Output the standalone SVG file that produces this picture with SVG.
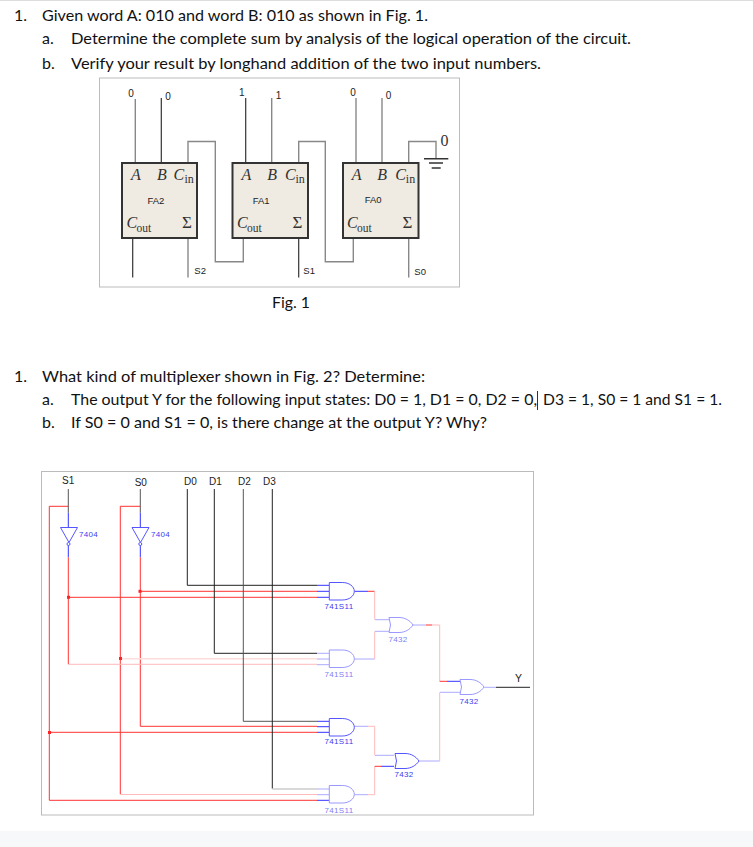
<svg xmlns="http://www.w3.org/2000/svg" width="753" height="847" viewBox="0 0 753 847">
<style>
.t{font-family:Lato,"Liberation Sans",sans-serif;font-size:16px;fill:#111}
.s{font-family:"Liberation Sans",Arial,sans-serif;fill:#222}
.m{font-family:"Liberation Serif","Times New Roman",serif;fill:#333}
.i{font-style:italic;font-size:16px}
.in{font-size:12px}
.out{font-size:11.500px}
.sg{font-size:17px}
.lb{font-size:9.500px}
.dg{font-size:10px}
.g{font-family:"Liberation Sans",Arial,sans-serif;font-size:8px;fill:#3b3bf0;letter-spacing:.3px;text-anchor:middle}
.gp{fill:#8080f5}
.k{fill:none;stroke:#888;stroke-width:1.4}
.kd{fill:none;stroke:#333;stroke-width:1.2}
.r{fill:none;stroke:#f33;stroke-width:1}
.p{fill:none;stroke:#fbb;stroke-width:1}
.pp{fill:none;stroke:#fdd;stroke-width:1.4}
.b{fill:none;stroke:#33f;stroke-width:1}
.bp{fill:none;stroke:#aaf;stroke-width:1}
.d{fill:none;stroke:#222;stroke-width:1}
.dd{fill:none;stroke:#555;stroke-width:1}
.box{fill:#efebe2;stroke:#333;stroke-width:2}
.gate{fill:#fff;stroke:#55f;stroke-width:1}
.gatep{fill:#fff;stroke:#99f;stroke-width:1}
.frame{fill:#fff;stroke:#bbb;stroke-width:1}
</style>
<defs>
<path id="and" d="M0 0H13C20 0 25 4 25 8.750C25 13.500 20 17.500 13 17.500H0Z"/>
<path id="or" d="M0 0H10C16 0 21 3 24 7.500C21 12 16 15 10 15H0Q3 7.500 0 0Z"/>
<path id="inv" d="M0 0H17L8.500 15Z"/>
</defs>
<rect width="753" height="847" fill="#fff"/>
<rect width="753" height="1" fill="#ddd"/>
<rect y="831" width="753" height="16" fill="#f6f8f9"/>

<g id="text-q1">
<text class="t" x="14" y="21">1.</text>
<text class="t" x="42" y="21" textLength="386" lengthAdjust="spacingAndGlyphs">Given word A: 010 and word B: 010 as shown in Fig. 1.</text>
<text class="t" x="42" y="44">a.</text>
<text class="t" x="71" y="44" textLength="560" lengthAdjust="spacingAndGlyphs">Determine the complete sum by analysis of the logical operation of the circuit.</text>
<text class="t" x="42" y="69">b.</text>
<text class="t" x="71" y="69" textLength="470" lengthAdjust="spacingAndGlyphs">Verify your result by longhand addition of the two input numbers.</text>
<text class="t" x="272" y="308" textLength="38" lengthAdjust="spacingAndGlyphs">Fig. 1</text>
</g>
<g id="text-q2">
<text class="t" x="14" y="382">1.</text>
<text class="t" x="42" y="382" textLength="383" lengthAdjust="spacingAndGlyphs">What kind of multiplexer shown in Fig. 2? Determine:</text>
<text class="t" x="42" y="405">a.</text>
<text class="t" x="71" y="405" textLength="466" lengthAdjust="spacingAndGlyphs">The output Y for the following input states: D0 = 1, D1 = 0, D2 = 0,</text>
<text class="t" x="543" y="405" textLength="179" lengthAdjust="spacingAndGlyphs">D3 = 1, S0 = 1 and S1 = 1.</text>
<text class="t" x="42" y="428">b.</text>
<text class="t" x="71" y="428" textLength="416" lengthAdjust="spacingAndGlyphs">If S0 = 0 and S1 = 0, is there change at the output Y? Why?</text>
<path d="M537.500 391V410" stroke="#333" stroke-width="1" fill="none"/>
</g>

<rect id="fig1-frame" class="frame" x="99.500" y="78" width="360" height="209"/>
<g id="fig1-connectors">
<path class="k" d="M135.300 99V163"/>
<path class="kd" d="M161.300 98V163"/>
<path class="k" d="M188 163V141.500H215.300V261.700H243.300V238"/>
<path class="kd" d="M245.700 98V163"/>
<path class="k" d="M271.700 98V163"/>
<path class="k" d="M298.700 163V141.500H325.300V261.700H353.300V238"/>
<path class="k" d="M356 98V163"/>
<path class="k" d="M382 98V163"/>
<path class="k" d="M408.700 163V141.500H436V158.500"/>
<path class="kd" d="M132.700 238V277.500"/>
<path class="k" d="M188 238V277.500"/>
<path class="kd" d="M298.700 238V277.500"/>
<path class="k" d="M408.700 238V277.500"/>
</g>
<g id="FA2">
<rect class="box" x="122" y="163" width="75" height="75"/>
<text class="m i" x="131" y="179.500">A</text><text class="m i" x="157" y="179.500">B</text><text class="m i" x="173.500" y="179.500">C</text><text class="m in" x="184.500" y="183">in</text>
<text class="s lb" x="147.500" y="204.300">FA2</text>
<text class="m i" x="126.500" y="228">C</text><text class="m out" x="136.500" y="232">out</text><text class="m sg" x="182" y="228">Σ</text>
<text class="s lb" x="194.300" y="274">S2</text>
<text class="s dg" x="128.300" y="97.300">0</text><text class="s dg" x="165.300" y="100">0</text>
</g>
<g id="FA1">
<rect class="box" x="232.500" y="163" width="75.500" height="75"/>
<text class="m i" x="241.500" y="179.500">A</text><text class="m i" x="267.300" y="179.500">B</text><text class="m i" x="285" y="179.500">C</text><text class="m in" x="295.500" y="183">in</text>
<text class="s lb" x="252.700" y="204.300">FA1</text>
<text class="m i" x="237" y="228">C</text><text class="m out" x="247" y="232">out</text><text class="m sg" x="292.500" y="228">Σ</text>
<text class="s lb" x="303.300" y="274">S1</text>
<text class="s dg" x="239" y="95.700">1</text><text class="s dg" x="275.700" y="98.700">1</text>
</g>
<g id="FA0">
<rect class="box" x="343" y="163" width="75.500" height="75"/>
<text class="m i" x="351.700" y="179.500">A</text><text class="m i" x="377.300" y="179.500">B</text><text class="m i" x="395.300" y="179.500">C</text><text class="m in" x="405.800" y="183">in</text>
<text class="s lb" x="364.700" y="203.300">FA0</text>
<text class="m i" x="347" y="228">C</text><text class="m out" x="357" y="232">out</text><text class="m sg" x="402.500" y="228">Σ</text>
<text class="s lb" x="414.300" y="275">S0</text>
<text class="s dg" x="350.300" y="96">0</text><text class="s dg" x="385.700" y="98.700">0</text>
</g>
<g id="ground">
<path d="M424 158.700H448.300M429 163H443M431.700 168H440.700" stroke="#333" stroke-width="1.500" fill="none"/>
<text class="m" x="440.500" y="145.700" font-size="16">0</text>
</g>

<rect id="fig2-frame" class="frame" x="41.500" y="471.500" width="492" height="343.500"/>
<g id="fig2-connectors">
<path class="dd" d="M68.300 489V512.700M140.300 489V512.700"/>
<path class="b" d="M68.300 512.700V527.300M68.300 544V557.300M140.300 512.700V527.300M140.300 544V557.300"/>
<path class="r" d="M68.300 506.300H49.300V800.300H317M120.300 794.300V506.300H140.300"/>
<path class="r" d="M68.300 557.300V664.300"/>
<path class="r" d="M140.300 557.300V726.300H317"/>
<path class="p" d="M68.300 664.300H317"/>
<path class="r" d="M140.300 591.300H317M68.300 597.300H317"/>
<path class="pp" d="M120.300 658.800H317"/>
<path class="r" d="M49.300 732.300H317"/>
<path class="p" d="M120.300 794.500H317"/>
<path class="d" d="M187.300 489V585.300H317"/>
<path class="d" d="M214.300 489V653.300H317"/>
<path class="dd" d="M243.300 489V721.300H317"/>
<path class="d" d="M272.300 489V788.700"/>
<path d="M272.300 789H317" stroke="#ccc" stroke-width="1.400" fill="none"/>
<path class="b" d="M317 585.300H329M317 591.300H329M317 597.300H329M317 721.300H329M317 726.700H329M317 732.300H329M317 800.300H329M354.300 591.300H368"/>
<path class="bp" d="M317 653.300H329M317 659H329M317 664.700H329M317 789H329M317 794.700H329"/>
<path class="bp" d="M354.300 659H374.700M354.300 726.300H368M354.300 794.700H368M375 619.700H389M375 631.300H389M375 755.300H394M412.700 625H426M419.300 761H439.700M440 692.300H460"/>
<path class="r" d="M368 591.300H374.700M426 625H432"/>
<path class="p" d="M374.700 591.300V619.700M374.700 631.300V659M432 625H439.700V681.300M368 726.300H374.700V755.300M368 794.700H374.700V766.300M439.700 761V692.300"/>
<path class="r" d="M374.700 766.300H381M439.700 681.300H447"/>
<path class="b" d="M381 766.300H394M447 681.300H460"/>
<path class="bp" d="M484.300 687.300H496"/>
<path class="d" d="M496 687.300H530"/>
</g>
<g id="fig2-junctions" fill="#f22">
<rect x="67" y="595.800" width="3" height="3"/><rect x="138.500" y="589.800" width="3" height="3"/><rect x="119" y="657" width="3" height="3"/><rect x="48" y="731" width="3" height="3"/>
</g>
<g id="labels-inputs" class="s" font-size="10">
<text x="62" y="484.300">S1</text><text x="134.700" y="485.700">S0</text><text x="184" y="484.700">D0</text><text x="209" y="484.700">D1</text><text x="238" y="484.700">D2</text><text x="263" y="484.700">D3</text><text x="515" y="682" font-size="10.500">Y</text>
</g>
<g id="inv-s1"><use href="#inv" class="gate" x="60.500" y="527.500"/><circle class="gate" cx="68.500" cy="544" r="1.500"/><text class="g" x="88.600" y="537">7404</text></g>
<g id="inv-s0"><use href="#inv" class="gate" x="132" y="527.500"/><circle class="gate" cx="140.300" cy="544" r="1.500"/><text class="g" x="160.500" y="537">7404</text></g>
<g id="and1"><use href="#and" class="gate" x="329.300" y="582.500"/><text class="g" x="339" y="609">741S11</text></g>
<g id="and2"><use href="#and" class="gatep" x="329.300" y="650"/><text class="g gp" x="339" y="677">741S11</text></g>
<g id="and3"><use href="#and" class="gate" x="329.300" y="718.500"/><text class="g" x="339" y="744">741S11</text></g>
<g id="and4"><use href="#and" class="gatep" x="329.300" y="785.500"/><text class="g gp" x="339" y="813">741S11</text></g>
<g id="or1"><use href="#or" class="gatep" x="389" y="617.500"/><text class="g gp" x="398" y="642">7432</text></g>
<g id="or2"><use href="#or" class="gate" x="395" y="753.500"/><text class="g" x="404" y="777">7432</text></g>
<g id="or3"><use href="#or" class="gatep" x="460" y="679.500"/><text class="g" x="469" y="704">7432</text></g>
</svg>
